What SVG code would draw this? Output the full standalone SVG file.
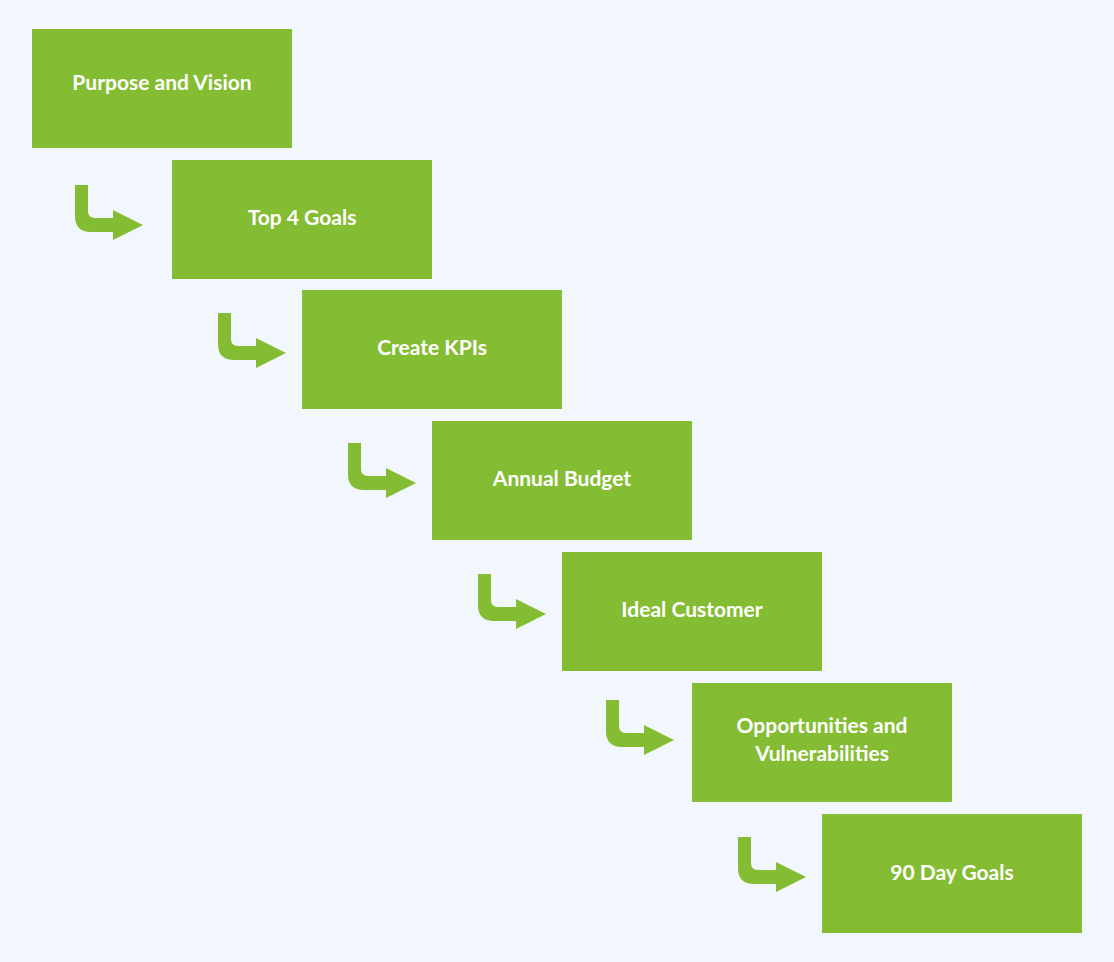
<svg xmlns="http://www.w3.org/2000/svg" width="1114" height="962" viewBox="0 0 1114 962">
<style>
.n{fill:#84bd33}
.t{fill:#fff;font-family:Lato,"Open Sans",sans-serif;font-weight:bold;font-size:21px;text-anchor:middle}
.a{fill:#84bd33}
</style>
<defs><path id="ar" d="M0,0 h13 v26 q0,7 7,7 h18 v-8 l30,15 l-30,15 v-8 h-22 q-16,0 -16,-16 z"/></defs>
<rect width="1114" height="962" fill="#f1f7fc"/>
<g id="connectors">
<use href="#ar" class="a" x="75" y="185"/>
<use href="#ar" class="a" x="218" y="313"/>
<use href="#ar" class="a" x="348" y="443"/>
<use href="#ar" class="a" x="478" y="574"/>
<use href="#ar" class="a" x="606" y="700"/>
<use href="#ar" class="a" x="738" y="837"/>
</g>
<g id="n1"><rect class="n" x="32" y="29" width="260" height="119"/><text class="t" x="162" y="90">Purpose and Vision</text></g>
<g id="n2"><rect class="n" x="172" y="160" width="260" height="119"/><text class="t" x="302" y="225">Top 4 Goals</text></g>
<g id="n3"><rect class="n" x="302" y="290" width="260" height="119"/><text class="t" x="432" y="355">Create KPIs</text></g>
<g id="n4"><rect class="n" x="432" y="421" width="260" height="119"/><text class="t" x="562" y="486">Annual Budget</text></g>
<g id="n5"><rect class="n" x="562" y="552" width="260" height="119"/><text class="t" x="692" y="617">Ideal Customer</text></g>
<g id="n6"><rect class="n" x="692" y="683" width="260" height="119"/><text class="t" x="822" y="733">Opportunities and</text><text class="t" x="822" y="761">Vulnerabilities</text></g>
<g id="n7"><rect class="n" x="822" y="814" width="260" height="119"/><text class="t" x="952" y="880">90 Day Goals</text></g>
</svg>
